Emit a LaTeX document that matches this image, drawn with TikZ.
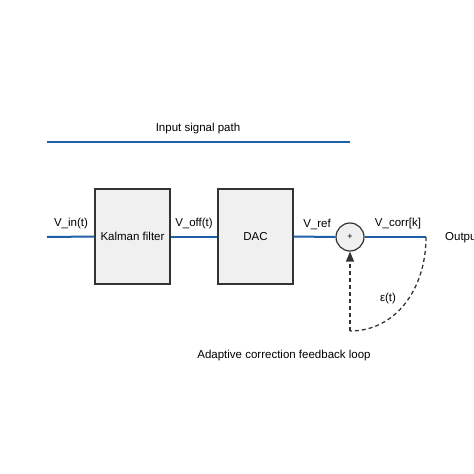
\documentclass[tikz,border=0pt]{standalone}
\usepackage{fontspec}
\setmainfont{Liberation Sans}
\usetikzlibrary{arrows.meta}
\definecolor{sigblue}{HTML}{1F5FA8}
\definecolor{boxfill}{HTML}{F0F0F0}
\definecolor{edge}{HTML}{333333}
\tikzset{
  blockbox/.style={draw=edge, fill=boxfill, line width=1.2pt, minimum width=75pt, minimum height=95pt, inner sep=0pt},
  sumnode/.style={circle, draw=edge, fill=boxfill, line width=1.2pt, minimum size=28pt, inner sep=0pt},
  sigline/.style={draw=sigblue, line width=2pt},
  fbline/.style={draw=edge, line width=1.3pt, dash pattern=on 4pt off 3pt},
  lbl/.style={font=\fontsize{11.5}{13}\selectfont, text=black, inner sep=0pt}
}
\begin{document}
\begin{tikzpicture}[x=1pt,y=-1pt]
\useasboundingbox (0,0) rectangle (474,474);
\clip (0,0) rectangle (474,474);
% top line
\coordinate (tl) at (47,142);
\coordinate (tr) at (350,142);
\draw[sigline] (tl) -- (tr);
\node[lbl] (toplbl) at (198,129) {Input signal path};
% blocks
\node[blockbox] (kal) at (132.5,236.5) {};
\node[lbl] (kallbl) at (kal.center) {Kalman filter};
\node[blockbox] (dac) at (255.5,236.5) {};
\node[lbl] (daclbl) at (dac.center) {DAC};
\node[sumnode] (sum) at (350,237) {};
\node[font=\fontsize{9}{10}\selectfont, inner sep=0pt] (plus) at (sum.center) {+};
\coordinate (in) at (47,237);
\coordinate (outend) at (426,237);
\coordinate (corner) at (350,331);
\draw[sigline] (in) -- (kal.west);
\draw[sigline] (kal.east) -- (dac.west);
\draw[sigline] (dac.east) -- (sum.west);
\draw[sigline] (sum.east) -- (outend);
% labels
\node[lbl] (vin) at (71,224) {V\_in(t)};
\node[lbl] (voff) at (194,224) {V\_off(t)};
\node[lbl] (vref) at (317,224) {V\_ref};
\node[lbl] (vcorr) at (398,224) {V\_corr[k]};
\node[lbl, anchor=west] (outlbl) at (445,238) {Output};
\node[lbl] (eps) at (388,299) {ε(t)};
% feedback
\draw[fbline] (outend) .. controls (426,290) and (395,331) .. (corner);
\draw[fbline, -{Triangle[length=10pt,width=8pt]}] (corner) -- (sum.south);
\node[lbl] (fblbl) at (284,356) {Adaptive correction feedback loop};
\end{tikzpicture}
\end{document}
